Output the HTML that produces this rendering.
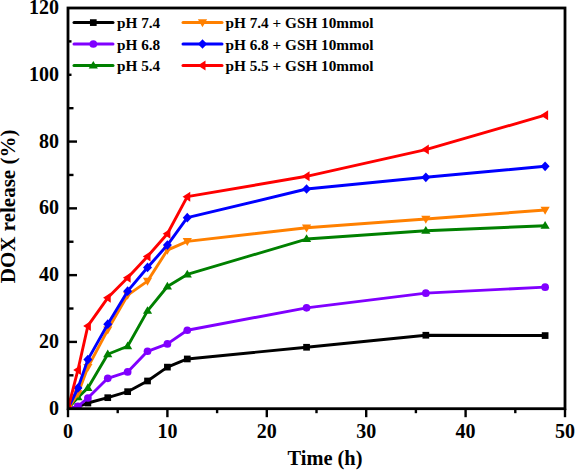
<!DOCTYPE html>
<html><head><meta charset="utf-8"><style>
html,body{margin:0;padding:0;background:#fff;}
svg{display:block;}
text{font-family:"Liberation Serif",serif;font-weight:bold;fill:#000;}
.tk{font-size:20px;}
.ti{font-size:21px;}
.tx{font-size:20.4px;}
.lg{font-size:15.25px;}
</style></head><body>
<svg width="575" height="470" viewBox="0 0 575 470">
<rect width="575" height="470" fill="#fff"/>
<defs><clipPath id="pc"><rect x="68" y="8" width="497" height="400.7"/></clipPath></defs>
<g clip-path="url(#pc)">
<polyline points="68.00,408.70 77.94,406.70 87.88,403.02 107.76,397.68 127.64,391.67 147.52,380.98 167.40,367.13 187.28,358.95 306.56,347.26 425.84,335.24 545.12,335.57" fill="none" stroke="#000000" stroke-width="2.9" stroke-linejoin="round" stroke-linecap="round"/>
<rect x="64.65" y="405.35" width="6.70" height="6.70" fill="#000000"/>
<rect x="74.59" y="403.35" width="6.70" height="6.70" fill="#000000"/>
<rect x="84.53" y="399.67" width="6.70" height="6.70" fill="#000000"/>
<rect x="104.41" y="394.33" width="6.70" height="6.70" fill="#000000"/>
<rect x="124.29" y="388.32" width="6.70" height="6.70" fill="#000000"/>
<rect x="144.17" y="377.63" width="6.70" height="6.70" fill="#000000"/>
<rect x="164.05" y="363.78" width="6.70" height="6.70" fill="#000000"/>
<rect x="183.93" y="355.60" width="6.70" height="6.70" fill="#000000"/>
<rect x="303.21" y="343.91" width="6.70" height="6.70" fill="#000000"/>
<rect x="422.49" y="331.89" width="6.70" height="6.70" fill="#000000"/>
<rect x="541.77" y="332.22" width="6.70" height="6.70" fill="#000000"/>
<polyline points="68.00,408.70 77.94,406.36 87.88,398.01 107.76,378.31 127.64,371.97 147.52,351.27 167.40,343.92 187.28,330.23 306.56,307.86 425.84,293.16 545.12,287.15" fill="none" stroke="#8000FF" stroke-width="2.9" stroke-linejoin="round" stroke-linecap="round"/>
<circle cx="68.00" cy="408.70" r="3.85" fill="#8000FF"/>
<circle cx="77.94" cy="406.36" r="3.85" fill="#8000FF"/>
<circle cx="87.88" cy="398.01" r="3.85" fill="#8000FF"/>
<circle cx="107.76" cy="378.31" r="3.85" fill="#8000FF"/>
<circle cx="127.64" cy="371.97" r="3.85" fill="#8000FF"/>
<circle cx="147.52" cy="351.27" r="3.85" fill="#8000FF"/>
<circle cx="167.40" cy="343.92" r="3.85" fill="#8000FF"/>
<circle cx="187.28" cy="330.23" r="3.85" fill="#8000FF"/>
<circle cx="306.56" cy="307.86" r="3.85" fill="#8000FF"/>
<circle cx="425.84" cy="293.16" r="3.85" fill="#8000FF"/>
<circle cx="545.12" cy="287.15" r="3.85" fill="#8000FF"/>
<polyline points="68.00,408.70 77.94,397.35 87.88,388.00 107.76,354.27 127.64,346.26 147.52,310.86 167.40,286.49 187.28,274.47 306.56,239.07 425.84,230.72 545.12,225.71" fill="none" stroke="#008000" stroke-width="2.9" stroke-linejoin="round" stroke-linecap="round"/>
<path d="M68.00,404.00L72.60,411.70L63.40,411.70Z" fill="#008000"/>
<path d="M77.94,392.65L82.54,400.35L73.34,400.35Z" fill="#008000"/>
<path d="M87.88,383.30L92.48,391.00L83.28,391.00Z" fill="#008000"/>
<path d="M107.76,349.57L112.36,357.27L103.16,357.27Z" fill="#008000"/>
<path d="M127.64,341.56L132.24,349.26L123.04,349.26Z" fill="#008000"/>
<path d="M147.52,306.16L152.12,313.86L142.92,313.86Z" fill="#008000"/>
<path d="M167.40,281.79L172.00,289.49L162.80,289.49Z" fill="#008000"/>
<path d="M187.28,269.77L191.88,277.47L182.68,277.47Z" fill="#008000"/>
<path d="M306.56,234.37L311.16,242.07L301.96,242.07Z" fill="#008000"/>
<path d="M425.84,226.02L430.44,233.72L421.24,233.72Z" fill="#008000"/>
<path d="M545.12,221.01L549.72,228.71L540.52,228.71Z" fill="#008000"/>
<polyline points="68.00,408.70 77.94,393.67 87.88,367.29 107.76,329.90 127.64,295.17 147.52,281.14 167.40,250.09 187.28,241.41 306.56,227.72 425.84,219.04 545.12,210.02" fill="none" stroke="#FF8000" stroke-width="2.9" stroke-linejoin="round" stroke-linecap="round"/>
<path d="M68.00,413.40L72.60,405.40L63.40,405.40Z" fill="#FF8000"/>
<path d="M77.94,398.37L82.54,390.37L73.34,390.37Z" fill="#FF8000"/>
<path d="M87.88,371.99L92.48,363.99L83.28,363.99Z" fill="#FF8000"/>
<path d="M107.76,334.60L112.36,326.60L103.16,326.60Z" fill="#FF8000"/>
<path d="M127.64,299.87L132.24,291.87L123.04,291.87Z" fill="#FF8000"/>
<path d="M147.52,285.84L152.12,277.84L142.92,277.84Z" fill="#FF8000"/>
<path d="M167.40,254.79L172.00,246.79L162.80,246.79Z" fill="#FF8000"/>
<path d="M187.28,246.11L191.88,238.11L182.68,238.11Z" fill="#FF8000"/>
<path d="M306.56,232.42L311.16,224.42L301.96,224.42Z" fill="#FF8000"/>
<path d="M425.84,223.74L430.44,215.74L421.24,215.74Z" fill="#FF8000"/>
<path d="M545.12,214.72L549.72,206.72L540.52,206.72Z" fill="#FF8000"/>
<polyline points="68.00,408.70 77.94,388.00 87.88,359.61 107.76,324.22 127.64,291.16 147.52,267.45 167.40,245.08 187.28,217.70 306.56,188.98 425.84,177.30 545.12,166.28" fill="none" stroke="#0000FF" stroke-width="2.9" stroke-linejoin="round" stroke-linecap="round"/>
<path d="M68.00,403.85L72.50,408.70L68.00,413.55L63.50,408.70Z" fill="#0000FF"/>
<path d="M77.94,383.15L82.44,388.00L77.94,392.85L73.44,388.00Z" fill="#0000FF"/>
<path d="M87.88,354.76L92.38,359.61L87.88,364.46L83.38,359.61Z" fill="#0000FF"/>
<path d="M107.76,319.37L112.26,324.22L107.76,329.07L103.26,324.22Z" fill="#0000FF"/>
<path d="M127.64,286.31L132.14,291.16L127.64,296.01L123.14,291.16Z" fill="#0000FF"/>
<path d="M147.52,262.60L152.02,267.45L147.52,272.30L143.02,267.45Z" fill="#0000FF"/>
<path d="M167.40,240.23L171.90,245.08L167.40,249.93L162.90,245.08Z" fill="#0000FF"/>
<path d="M187.28,212.85L191.78,217.70L187.28,222.55L182.78,217.70Z" fill="#0000FF"/>
<path d="M306.56,184.13L311.06,188.98L306.56,193.83L302.06,188.98Z" fill="#0000FF"/>
<path d="M425.84,172.45L430.34,177.30L425.84,182.15L421.34,177.30Z" fill="#0000FF"/>
<path d="M545.12,161.43L549.62,166.28L545.12,171.13L540.62,166.28Z" fill="#0000FF"/>
<polyline points="68.00,408.70 77.94,369.97 87.88,325.89 107.76,297.84 127.64,277.80 147.52,256.43 167.40,233.73 187.28,196.66 306.56,176.29 425.84,149.58 545.12,115.19" fill="none" stroke="#FF0000" stroke-width="2.9" stroke-linejoin="round" stroke-linecap="round"/>
<path d="M63.30,408.70L71.00,403.70L71.00,413.70Z" fill="#FF0000"/>
<path d="M73.24,369.97L80.94,364.97L80.94,374.97Z" fill="#FF0000"/>
<path d="M83.18,325.89L90.88,320.89L90.88,330.89Z" fill="#FF0000"/>
<path d="M103.06,297.84L110.76,292.84L110.76,302.84Z" fill="#FF0000"/>
<path d="M122.94,277.80L130.64,272.80L130.64,282.80Z" fill="#FF0000"/>
<path d="M142.82,256.43L150.52,251.43L150.52,261.43Z" fill="#FF0000"/>
<path d="M162.70,233.73L170.40,228.73L170.40,238.73Z" fill="#FF0000"/>
<path d="M182.58,196.66L190.28,191.66L190.28,201.66Z" fill="#FF0000"/>
<path d="M301.86,176.29L309.56,171.29L309.56,181.29Z" fill="#FF0000"/>
<path d="M421.14,149.58L428.84,144.58L428.84,154.58Z" fill="#FF0000"/>
<path d="M540.42,115.19L548.12,110.19L548.12,120.19Z" fill="#FF0000"/>
</g>
<line x1="68" y1="375.31" x2="73.5" y2="375.31" stroke="#000" stroke-width="2.4"/>
<line x1="68" y1="341.92" x2="77" y2="341.92" stroke="#000" stroke-width="2.4"/>
<line x1="68" y1="308.52" x2="73.5" y2="308.52" stroke="#000" stroke-width="2.4"/>
<line x1="68" y1="275.13" x2="77" y2="275.13" stroke="#000" stroke-width="2.4"/>
<line x1="68" y1="241.74" x2="73.5" y2="241.74" stroke="#000" stroke-width="2.4"/>
<line x1="68" y1="208.35" x2="77" y2="208.35" stroke="#000" stroke-width="2.4"/>
<line x1="68" y1="174.96" x2="73.5" y2="174.96" stroke="#000" stroke-width="2.4"/>
<line x1="68" y1="141.57" x2="77" y2="141.57" stroke="#000" stroke-width="2.4"/>
<line x1="68" y1="108.18" x2="73.5" y2="108.18" stroke="#000" stroke-width="2.4"/>
<line x1="68" y1="74.78" x2="77" y2="74.78" stroke="#000" stroke-width="2.4"/>
<line x1="68" y1="41.39" x2="73.5" y2="41.39" stroke="#000" stroke-width="2.4"/>
<line x1="68.00" y1="408.7" x2="68.00" y2="417.2" stroke="#000" stroke-width="2.4"/>
<line x1="117.70" y1="408.7" x2="117.70" y2="413.2" stroke="#000" stroke-width="2.4"/>
<line x1="167.40" y1="408.7" x2="167.40" y2="417.2" stroke="#000" stroke-width="2.4"/>
<line x1="217.10" y1="408.7" x2="217.10" y2="413.2" stroke="#000" stroke-width="2.4"/>
<line x1="266.80" y1="408.7" x2="266.80" y2="417.2" stroke="#000" stroke-width="2.4"/>
<line x1="316.50" y1="408.7" x2="316.50" y2="413.2" stroke="#000" stroke-width="2.4"/>
<line x1="366.20" y1="408.7" x2="366.20" y2="417.2" stroke="#000" stroke-width="2.4"/>
<line x1="415.90" y1="408.7" x2="415.90" y2="413.2" stroke="#000" stroke-width="2.4"/>
<line x1="465.60" y1="408.7" x2="465.60" y2="417.2" stroke="#000" stroke-width="2.4"/>
<line x1="515.30" y1="408.7" x2="515.30" y2="413.2" stroke="#000" stroke-width="2.4"/>
<line x1="565.00" y1="408.7" x2="565.00" y2="417.2" stroke="#000" stroke-width="2.4"/>
<rect x="71.5" y="11" width="305" height="67" fill="#fff"/>
<line x1="74" y1="22.6" x2="113" y2="22.6" stroke="#000000" stroke-width="3" stroke-linecap="round"/>
<rect x="89.95" y="19.25" width="6.70" height="6.70" fill="#000000"/>
<text x="117" y="28.2" class="lg">pH 7.4</text>
<line x1="74" y1="44.0" x2="113" y2="44.0" stroke="#8000FF" stroke-width="3" stroke-linecap="round"/>
<circle cx="93.30" cy="44.00" r="3.85" fill="#8000FF"/>
<text x="117" y="49.6" class="lg">pH 6.8</text>
<line x1="74" y1="65.6" x2="113" y2="65.6" stroke="#008000" stroke-width="3" stroke-linecap="round"/>
<path d="M93.30,60.90L97.90,68.60L88.70,68.60Z" fill="#008000"/>
<text x="117" y="71.2" class="lg">pH 5.4</text>
<line x1="183" y1="22.6" x2="222" y2="22.6" stroke="#FF8000" stroke-width="3" stroke-linecap="round"/>
<path d="M202.50,27.30L207.10,19.30L197.90,19.30Z" fill="#FF8000"/>
<text x="225.5" y="28.2" class="lg">pH 7.4 + GSH 10mmol</text>
<line x1="183" y1="44.0" x2="222" y2="44.0" stroke="#0000FF" stroke-width="3" stroke-linecap="round"/>
<path d="M202.50,39.15L207.00,44.00L202.50,48.85L198.00,44.00Z" fill="#0000FF"/>
<text x="225.5" y="49.6" class="lg">pH 6.8 + GSH 10mmol</text>
<line x1="183" y1="65.6" x2="222" y2="65.6" stroke="#FF0000" stroke-width="3" stroke-linecap="round"/>
<path d="M197.80,65.60L205.50,60.60L205.50,70.60Z" fill="#FF0000"/>
<text x="225.5" y="71.2" class="lg">pH 5.5 + GSH 10mmol</text>
<rect x="68" y="8" width="497" height="400.7" fill="none" stroke="#000" stroke-width="2.8"/>
<text x="59" y="414.80" class="tk" text-anchor="end">0</text>
<text x="59" y="348.02" class="tk" text-anchor="end">20</text>
<text x="59" y="281.23" class="tk" text-anchor="end">40</text>
<text x="59" y="214.45" class="tk" text-anchor="end">60</text>
<text x="59" y="147.67" class="tk" text-anchor="end">80</text>
<text x="59" y="80.88" class="tk" text-anchor="end">100</text>
<text x="59" y="14.10" class="tk" text-anchor="end">120</text>
<text x="68.00" y="437.8" class="tk" text-anchor="middle">0</text>
<text x="167.40" y="437.8" class="tk" text-anchor="middle">10</text>
<text x="266.80" y="437.8" class="tk" text-anchor="middle">20</text>
<text x="366.20" y="437.8" class="tk" text-anchor="middle">30</text>
<text x="465.60" y="437.8" class="tk" text-anchor="middle">40</text>
<text x="565.00" y="437.8" class="tk" text-anchor="middle">50</text>
<text x="325" y="464.9" class="tx" text-anchor="middle">Time (h)</text>
<text transform="translate(14.6,206.4) rotate(-90)" class="ti" text-anchor="middle">DOX release (%)</text>
</svg>
</body></html>
